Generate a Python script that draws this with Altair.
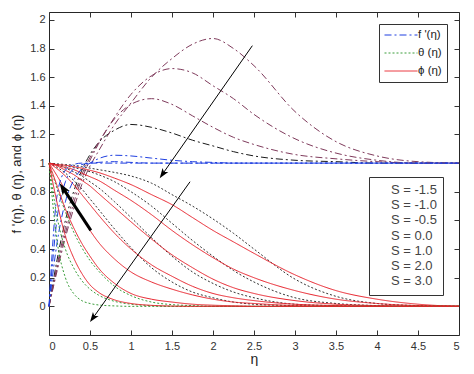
import math
import altair as alt
import pandas as pd

FONT = "Liberation Sans"

# ---------------- data ----------------
ETA = [0, 0.1, 0.2, 0.3, 0.4, 0.5, 0.6, 0.8, 1.0, 1.25, 1.5, 1.75, 2.0, 2.25, 2.5, 3.0, 3.5, 4.0, 4.5, 5.0]
S_VALUES = [-1.5, -1.0, -0.5, 0.0, 1.0, 2.0, 3.0]
S_LABELS = ["S = -1.5", "S = -1.0", "S = -0.5", "S = 0.0", "S = 1.0", "S = 2.0", "S = 3.0"]
VAR_NAMES = ["f '(η)", "θ (η)", "ϕ (η)"]

# f'(eta), dash-dot curves
FP_M15 = [0, 0.25, 0.48, 0.68, 0.85, 0.98, 1.08, 1.27, 1.42, 1.60, 1.73, 1.83, 1.87, 1.80, 1.68, 1.36, 1.15, 1.05, 1.01, 1.0]
FP_M10 = [0, 0.27, 0.51, 0.72, 0.89, 1.02, 1.13, 1.32, 1.48, 1.61, 1.66, 1.63, 1.54, 1.45, 1.34, 1.17, 1.07, 1.02, 1.0, 1.0]
FP_M05 = [0, 0.29, 0.55, 0.76, 0.92, 1.04, 1.14, 1.31, 1.41, 1.45, 1.41, 1.33, 1.25, 1.18, 1.13, 1.06, 1.03, 1.01, 1.0, 1.0]
FP_000 = [0, 0.33, 0.60, 0.80, 0.95, 1.06, 1.14, 1.23, 1.27, 1.25, 1.21, 1.16, 1.12, 1.08, 1.05, 1.02, 1.01, 1.0, 1.0, 1.0]
FP_P10 = [0, 0.45, 0.73, 0.88, 0.96, 1.0, 1.03, 1.055, 1.05, 1.035, 1.02, 1.01, 1.005, 1.0, 1.0, 1.0, 1.0, 1.0, 1.0, 1.0]
FP_P20 = [0, 0.62, 0.87, 0.96, 0.99, 1.0, 1.005, 1.01, 1.005, 1.0, 1.0, 1.0, 1.0, 1.0, 1.0, 1.0, 1.0, 1.0, 1.0, 1.0]
FP_P30 = [0, 0.78, 0.95, 0.99, 1.0, 1.0, 1.0, 1.0, 1.0, 1.0, 1.0, 1.0, 1.0, 1.0, 1.0, 1.0, 1.0, 1.0, 1.0, 1.0]

# theta(eta), dotted curves
TH_M15 = [1, 0.995, 0.99, 0.985, 0.975, 0.965, 0.955, 0.935, 0.91, 0.86, 0.78, 0.70, 0.61, 0.51, 0.40, 0.19, 0.07, 0.02, 0.005, 0]
TH_M10 = [1, 0.99, 0.98, 0.97, 0.955, 0.94, 0.92, 0.87, 0.80, 0.70, 0.58, 0.46, 0.35, 0.25, 0.17, 0.06, 0.02, 0.005, 0, 0]
TH_M05 = [1, 0.985, 0.965, 0.94, 0.91, 0.87, 0.83, 0.73, 0.62, 0.48, 0.35, 0.24, 0.16, 0.10, 0.06, 0.015, 0.005, 0, 0, 0]
TH_000 = [1, 0.97, 0.93, 0.88, 0.82, 0.75, 0.68, 0.54, 0.41, 0.27, 0.17, 0.10, 0.06, 0.03, 0.015, 0.005, 0, 0, 0, 0]
TH_P10 = [1, 0.82, 0.66, 0.52, 0.41, 0.32, 0.25, 0.14, 0.075, 0.03, 0.012, 0.005, 0, 0, 0, 0, 0, 0, 0, 0]
TH_P20 = [1, 0.62, 0.40, 0.27, 0.18, 0.12, 0.08, 0.035, 0.015, 0.005, 0, 0, 0, 0, 0, 0, 0, 0, 0, 0]
TH_P30 = [1, 0.45, 0.20, 0.09, 0.04, 0.02, 0.01, 0.003, 0, 0, 0, 0, 0, 0, 0, 0, 0, 0, 0, 0]

# phi(eta), solid red curves
PH_M15 = [1, 0.99, 0.985, 0.975, 0.965, 0.95, 0.935, 0.895, 0.85, 0.78, 0.71, 0.62, 0.53, 0.45, 0.37, 0.22, 0.11, 0.05, 0.015, 0]
PH_M10 = [1, 0.985, 0.97, 0.955, 0.93, 0.905, 0.88, 0.81, 0.74, 0.64, 0.53, 0.43, 0.34, 0.26, 0.20, 0.11, 0.05, 0.02, 0.005, 0]
PH_M05 = [1, 0.98, 0.95, 0.92, 0.88, 0.84, 0.79, 0.69, 0.59, 0.47, 0.36, 0.27, 0.19, 0.13, 0.09, 0.04, 0.015, 0.005, 0, 0]
PH_000 = [1, 0.96, 0.91, 0.85, 0.78, 0.71, 0.64, 0.51, 0.40, 0.29, 0.21, 0.14, 0.09, 0.06, 0.04, 0.015, 0.005, 0, 0, 0]
PH_P10 = [1, 0.91, 0.81, 0.71, 0.62, 0.53, 0.45, 0.33, 0.24, 0.17, 0.12, 0.08, 0.05, 0.03, 0.02, 0.005, 0, 0, 0, 0]
PH_P20 = [1, 0.84, 0.68, 0.55, 0.44, 0.35, 0.27, 0.16, 0.09, 0.05, 0.03, 0.015, 0.008, 0.004, 0, 0, 0, 0, 0, 0]
PH_P30 = [1, 0.72, 0.49, 0.34, 0.23, 0.15, 0.10, 0.045, 0.02, 0.007, 0.002, 0, 0, 0, 0, 0, 0, 0, 0, 0]

# arrows (start -> tip), in data units
ARROW_X0 = [2.48, 1.72, 0.51]
ARROW_Y0 = [1.82, 0.87, 0.53]
ARROW_X1 = [1.35, 0.50, 0.13]
ARROW_Y1 = [0.895, -0.11, 0.86]
ARROW_W = [1, 1, 3]
ARROW_HEAD = [100, 100, 144]

X_TICKS = [0, 0.5, 1, 1.5, 2, 2.5, 3, 3.5, 4, 4.5, 5]
Y_TICKS = [0, 0.2, 0.4, 0.6, 0.8, 1, 1.2, 1.4, 1.6, 1.8, 2]

# ---------------- layout ----------------
W, H = 410, 323
X_DOM = [0, 5]
Y_DOM = [-0.2, 2.055]

FP_ALL = [FP_M15, FP_M10, FP_M05, FP_000, FP_P10, FP_P20, FP_P30]
TH_ALL = [TH_M15, TH_M10, TH_M05, TH_000, TH_P10, TH_P20, TH_P30]
PH_ALL = [PH_M15, PH_M10, PH_M05, PH_000, PH_P10, PH_P20, PH_P30]

rows = []
for s, fp, th, ph in zip(S_VALUES, FP_ALL, TH_ALL, PH_ALL):
    for e, a, b, c in zip(ETA, fp, th, ph):
        if s < -0.1:
            gf = "fp_maroon"
        elif s < 0.5:
            gf = "fp_black"
        else:
            gf = "legend"
        gt = "th_dark" if s < 0.5 else "legend"
        rows.append(dict(eta=e, val=a, S=s, var=VAR_NAMES[0], grp=gf))
        rows.append(dict(eta=e, val=b, S=s, var=VAR_NAMES[1], grp=gt))
        rows.append(dict(eta=e, val=c, S=s, var=VAR_NAMES[2], grp="legend"))
df = pd.DataFrame(rows)

XS = alt.Scale(domain=X_DOM, nice=False, zero=False)
YS = alt.Scale(domain=Y_DOM, nice=False, zero=False)

DASH_FP = [7, 3, 2, 3]
DASH_TH = [2, 2]
COL_FP = "#1f3fe0"
COL_TH = "#3a9d3a"
COL_PH = "#e8202a"


def xy():
    return dict(x=alt.X("eta:Q", scale=XS, axis=None), y=alt.Y("val:Q", scale=YS, axis=None))


leg_common = dict(
    orient="none", legendX=330, legendY=12, title=None,
    symbolType="M-1,0L5,0", symbolSize=121, symbolStrokeWidth=1, symbolOffset=0,
    labelOffset=22, labelFont=FONT, labelFontSize=11.5, labelColor="#222",
    padding=5, rowPadding=6, strokeColor="#333", fillColor="white",
)

legend_lines = alt.Chart(df[df.grp == "legend"]).mark_line(interpolate="monotone", strokeWidth=1).encode(
    **xy(),
    detail="S:N",
    color=alt.Color("var:N", scale=alt.Scale(domain=VAR_NAMES, range=[COL_FP, COL_TH, COL_PH]),
                    legend=alt.Legend(**leg_common)),
    strokeDash=alt.StrokeDash("var:N", scale=alt.Scale(domain=VAR_NAMES, range=[DASH_FP, DASH_TH, [1, 0]]),
                              legend=alt.Legend(**leg_common)),
)

fp_maroon = alt.Chart(df[df.grp == "fp_maroon"]).mark_line(
    interpolate="monotone", strokeWidth=1, color="#7f3b5c", strokeDash=DASH_FP
).encode(**xy(), detail="S:N")
fp_black = alt.Chart(df[df.grp == "fp_black"]).mark_line(
    interpolate="monotone", strokeWidth=1, color="#1a1a1a", strokeDash=DASH_FP
).encode(**xy(), detail="S:N")
th_dark = alt.Chart(df[df.grp == "th_dark"]).mark_line(
    interpolate="monotone", strokeWidth=1, color="#333333", strokeDash=DASH_TH
).encode(**xy(), detail="S:N")

# arrows
PX_X = W / (X_DOM[1] - X_DOM[0])
PX_Y = H / (Y_DOM[1] - Y_DOM[0])
arows = []
for x0, y0, x1, y1, w, hs in zip(ARROW_X0, ARROW_Y0, ARROW_X1, ARROW_Y1, ARROW_W, ARROW_HEAD):
    dx = (x1 - x0) * PX_X
    dy = -(y1 - y0) * PX_Y
    L = math.hypot(dx, dy)
    ang = math.degrees(math.atan2(dx, -dy)) % 360
    back = 1.4 * math.sqrt(hs) / 2
    xe = x1 - dx / L * back / PX_X
    ye = y1 + dy / L * back / PX_Y
    arows.append(dict(x0=x0, y0=y0, xe=xe, ye=ye, x1=x1, y1=y1, w=w, ang=ang, hs=hs))
adf = pd.DataFrame(arows)

shafts = alt.Chart(adf).mark_rule(color="black").encode(
    x=alt.X("x0:Q", scale=XS, axis=None), y=alt.Y("y0:Q", scale=YS, axis=None),
    x2="xe:Q", y2="ye:Q", strokeWidth=alt.StrokeWidth("w:Q", scale=None),
)
heads = alt.Chart(adf).mark_point(
    shape="M0,0L0.7,2L0,1.5L-0.7,2Z", filled=True, color="black", opacity=1
).encode(
    x=alt.X("x1:Q", scale=XS, axis=None), y=alt.Y("y1:Q", scale=YS, axis=None),
    angle=alt.Angle("ang:Q", scale=None), size=alt.Size("hs:Q", scale=None),
)

# S = ... box as a label-only legend
sdf = pd.DataFrame({"label": S_LABELS})
s_box = alt.Chart(sdf).mark_point(opacity=0).encode(
    shape=alt.Shape("label:N", scale=alt.Scale(domain=S_LABELS), legend=alt.Legend(
        orient="none", legendX=320, legendY=165, title=None,
        symbolSize=144, symbolOpacity=0, labelOffset=2,
        labelExpr="datum.label + '\u00a0\u00a0\u00a0'",
        labelFont=FONT, labelFontSize=13, labelColor="#444",
        padding=6, rowPadding=1.2, strokeColor="#333", fillColor="white",
    ))
)

# axes: labelled bottom/left, plus inward ticks on all four sides
lab = dict(labelFont=FONT, labelFontSize=11, labelColor="#333", titleFont=FONT,
           titleColor="#222", titleFontWeight="normal", grid=False, domain=False,
           ticks=False, tickSize=0, format="~g")
ax_main = alt.Chart(df).mark_point(opacity=0, size=1).encode(
    x=alt.X("eta:Q", scale=XS, axis=alt.Axis(orient="bottom", values=X_TICKS, labelPadding=5,
                                             title="η", titleFontSize=14, titlePadding=1, **lab)),
    y=alt.Y("val:Q", scale=YS, axis=alt.Axis(orient="left", values=Y_TICKS, labelPadding=4,
                                             title="f '(η), θ (η), and ϕ (η)", titleFontSize=13,
                                             titlePadding=6, **lab)),
)
tk = dict(labels=False, domain=False, grid=False, ticks=True, tickSize=5, tickColor="#333", title=None)
ax_in1 = alt.Chart(df).mark_point(opacity=0, size=1).encode(
    x=alt.X("eta:Q", scale=XS, axis=alt.Axis(orient="top", offset=-H, values=X_TICKS, **tk)),
    y=alt.Y("val:Q", scale=YS, axis=alt.Axis(orient="right", offset=-W, values=Y_TICKS, **tk)),
)
ax_in2 = alt.Chart(df).mark_point(opacity=0, size=1).encode(
    x=alt.X("eta:Q", scale=XS, axis=alt.Axis(orient="bottom", offset=-H, values=X_TICKS, **tk)),
    y=alt.Y("val:Q", scale=YS, axis=alt.Axis(orient="left", offset=-W, values=Y_TICKS, **tk)),
)

chart = alt.layer(
    ax_main, ax_in1, ax_in2, th_dark, fp_black, fp_maroon, legend_lines, shafts, heads, s_box
).resolve_axis(x="independent", y="independent").properties(
    width=W, height=H,
    autosize=alt.AutoSizeParams(type="none"),
    padding={"left": 41, "top": 4, "right": 7, "bottom": 31},
).configure_view(stroke="#262626", strokeWidth=1)

chart.save("out.html", embed_options={"renderer": "svg", "actions": False})
